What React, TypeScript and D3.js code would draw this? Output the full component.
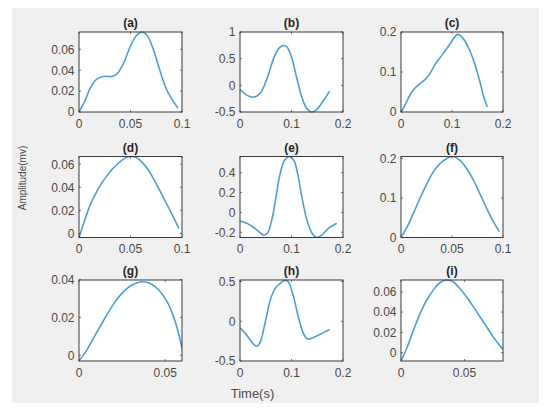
import React from "react";
import * as d3 from "d3";

// ---------- data ----------
const panelTitles = ["(a)", "(b)", "(c)", "(d)", "(e)", "(f)", "(g)", "(h)", "(i)"];

const seriesA: [number, number][] = [[0,0],[0.006,0.0112],[0.0107,0.0224],[0.0172,0.0314],[0.0237,0.034],[0.0318,0.034],[0.0367,0.0362],[0.0432,0.0465],[0.0497,0.0625],[0.0562,0.0737],[0.061,0.0766],[0.0659,0.0737],[0.0724,0.0593],[0.0789,0.0385],[0.0854,0.0208],[0.0919,0.0096],[0.0961,0.0038]];
const seriesB: [number, number][] = [[0,-0.076],[0.011,-0.17],[0.02,-0.213],[0.03,-0.213],[0.04,-0.14],[0.052,0.115],[0.065,0.497],[0.075,0.688],[0.083,0.745],[0.091,0.72],[0.1,0.529],[0.11,0.146],[0.1195,-0.204],[0.129,-0.427],[0.139,-0.5],[0.148,-0.46],[0.161,-0.3],[0.174,-0.108]];
const seriesC: [number, number][] = [[0,0],[0.0084,0.0185],[0.018,0.0437],[0.028,0.0605],[0.0377,0.0714],[0.0474,0.0815],[0.057,0.0966],[0.0669,0.119],[0.0766,0.136],[0.0864,0.153],[0.096,0.17],[0.1045,0.1866],[0.111,0.194],[0.1175,0.19],[0.125,0.178],[0.135,0.153],[0.145,0.119],[0.1545,0.077],[0.162,0.039],[0.1695,0.0126]];
const seriesD: [number, number][] = [[0,-0.0035],[0.005,0.01],[0.011,0.025],[0.018,0.0375],[0.025,0.0475],[0.032,0.0555],[0.039,0.0615],[0.045,0.0655],[0.05,0.0667],[0.055,0.066],[0.061,0.062],[0.068,0.054],[0.075,0.043],[0.082,0.031],[0.089,0.019],[0.097,0.0043]];
const seriesE: [number, number][] = [[0,-0.087],[0.013,-0.11],[0.026,-0.15],[0.039,-0.203],[0.0455,-0.227],[0.053,-0.21],[0.0617,-0.077],[0.07,0.157],[0.078,0.39],[0.0864,0.523],[0.0955,0.563],[0.104,0.53],[0.112,0.39],[0.12,0.157],[0.13,-0.077],[0.14,-0.21],[0.149,-0.253],[0.159,-0.227],[0.172,-0.16],[0.188,-0.11]];
const seriesF: [number, number][] = [[0,0],[0.0056,0.025],[0.0121,0.061],[0.0186,0.099],[0.0252,0.135],[0.0317,0.166],[0.0382,0.187],[0.0448,0.2],[0.0513,0.205],[0.0578,0.195],[0.0644,0.174],[0.071,0.145],[0.0775,0.11],[0.084,0.074],[0.0905,0.04],[0.0964,0.015]];
const seriesG: [number, number][] = [[0,-0.003],[0.0045,0.0027],[0.0083,0.0089],[0.0122,0.0151],[0.0161,0.0213],[0.02,0.027],[0.0238,0.0316],[0.0277,0.0352],[0.0316,0.0375],[0.0364,0.0388],[0.0413,0.0379],[0.046,0.0347],[0.051,0.0284],[0.0548,0.0204],[0.0577,0.0116],[0.0597,0.0036]];
const seriesH: [number, number][] = [[0,-0.083],[0.0097,-0.146],[0.0194,-0.229],[0.029,-0.304],[0.034,-0.31],[0.04,-0.25],[0.048,-0.042],[0.058,0.25],[0.064,0.36],[0.07,0.43],[0.0774,0.475],[0.087,0.515],[0.0935,0.5],[0.103,0.333],[0.113,0.0625],[0.1226,-0.146],[0.13,-0.217],[0.1355,-0.221],[0.148,-0.188],[0.161,-0.146],[0.174,-0.104]];
const seriesI: [number, number][] = [[0,-0.0083],[0.0045,0.0043],[0.0097,0.0217],[0.0149,0.0383],[0.0202,0.0517],[0.0254,0.0617],[0.0306,0.069],[0.0359,0.0717],[0.0411,0.07],[0.0463,0.0633],[0.0516,0.055],[0.0568,0.0457],[0.062,0.0357],[0.0673,0.0257],[0.0725,0.0157],[0.0801,0.0033]];

const allSeries = [seriesA, seriesB, seriesC, seriesD, seriesE, seriesF, seriesG, seriesH, seriesI];

const xLims: [number, number][] = [[0,0.1],[0,0.2],[0,0.2],[0,0.1],[0,0.2],[0,0.1],[0,0.0597],[0,0.2],[0,0.0803]];
const yLims: [number, number][] = [[0,0.0766],[-0.5,1],[0,0.2],[-0.0035,0.0667],[-0.253,0.563],[0,0.205],[-0.003,0.0397],[-0.5,0.52],[-0.0083,0.0717]];

const xTicks: number[][] = [[0,0.05,0.1],[0,0.1,0.2],[0,0.1,0.2],[0,0.05,0.1],[0,0.1,0.2],[0,0.05,0.1],[0,0.05],[0,0.1,0.2],[0,0.05]];
const yTicks: number[][] = [[0,0.02,0.04,0.06],[-0.5,0,0.5,1],[0,0.1,0.2],[0,0.02,0.04,0.06],[-0.2,0,0.2,0.4],[0,0.1,0.2],[0,0.02,0.04],[-0.5,0,0.5],[0,0.02,0.04,0.06]];

const yAxisLabel = "Amplitude(mv)";
const xAxisLabel = "Time(s)";

// ---------- layout ----------
const W = 550, H = 414;
const colX: [number, number][] = [[79, 182], [240, 343], [401, 503]];
const rowY: [number, number][] = [[32, 112], [156.5, 237.5], [280, 361]];
const FONT = "'Liberation Sans', Arial, Helvetica, sans-serif";
const lineColor = "#4a9fdc";
const axisColor = "#3a3a3a";
const textColor = "#4a4a4a";

const fmt = (v: number) => String(+v.toFixed(4));

function Panel({ idx }: { idx: number }) {
  const col = idx % 3, row = Math.floor(idx / 3);
  const [x0, x1] = colX[col];
  const [y0, y1] = rowY[row];
  const xs = d3.scaleLinear().domain(xLims[idx]).range([x0, x1]);
  const ys = d3.scaleLinear().domain(yLims[idx]).range([y1, y0]);
  const line = d3
    .line<[number, number]>()
    .x((d) => xs(d[0]))
    .y((d) => ys(d[1]))
    .curve(d3.curveCatmullRom.alpha(0.5));
  const tl = 2;
  return (
    <g>
      <rect x={x0} y={y0} width={x1 - x0} height={y1 - y0} fill="#ffffff" />
      <defs>
        <clipPath id={`clip${idx}`}>
          <rect x={x0} y={y0 - 1} width={x1 - x0} height={y1 - y0 + 2} />
        </clipPath>
      </defs>
      <path
        d={line(allSeries[idx]) || ""}
        fill="none"
        stroke={lineColor}
        strokeWidth={1.6}
        clipPath={`url(#clip${idx})`}
      />
      {xTicks[idx].map((t) => (
        <g key={"x" + t}>
          <line x1={xs(t)} x2={xs(t)} y1={y1} y2={y1 - tl} stroke={axisColor} strokeWidth={0.7} />
          <line x1={xs(t)} x2={xs(t)} y1={y0} y2={y0 + tl} stroke={axisColor} strokeWidth={0.7} />
          <text
            x={xs(t)}
            y={y1 + 15.5}
            textAnchor="middle"
            fontSize={12}
            fontFamily={FONT}
            fill={textColor}
          >
            {fmt(t)}
          </text>
        </g>
      ))}
      {yTicks[idx].map((t) => (
        <g key={"y" + t}>
          <line x1={x0} x2={x0 + tl} y1={ys(t)} y2={ys(t)} stroke={axisColor} strokeWidth={0.7} />
          <line x1={x1} x2={x1 - tl} y1={ys(t)} y2={ys(t)} stroke={axisColor} strokeWidth={0.7} />
          <text
            x={x0 - 4.5}
            y={ys(t)}
            dy="0.36em"
            textAnchor="end"
            fontSize={12}
            fontFamily={FONT}
            fill={textColor}
          >
            {fmt(t)}
          </text>
        </g>
      ))}
      <rect
        x={x0}
        y={y0}
        width={x1 - x0}
        height={y1 - y0}
        fill="none"
        stroke={axisColor}
        strokeWidth={1}
      />
      <text
        x={(x0 + x1) / 2}
        y={y0 - 5}
        textAnchor="middle"
        fontSize={12}
        fontWeight="bold"
        fontFamily={FONT}
        fill="#262626"
      >
        {panelTitles[idx]}
      </text>
    </g>
  );
}

export default function App() {
  return (
    <svg
      width={W}
      height={H}
      style={{ position: "absolute", left: 0, top: 0, background: "#ffffff" }}
    >
      <rect x={12} y={8} width={527} height={395} fill="#f0f0f0" />
      {allSeries.map((_, i) => (
        <Panel key={i} idx={i} />
      ))}
      <text
        transform="translate(25.5,178) rotate(-90)"
        textAnchor="middle"
        fontSize={10}
        fontFamily={FONT}
        fill={textColor}
      >
        {yAxisLabel}
      </text>
      <text
        x={252.5}
        y={398}
        textAnchor="middle"
        fontSize={13}
        fontFamily={FONT}
        fill={textColor}
      >
        {xAxisLabel}
      </text>
    </svg>
  );
}
